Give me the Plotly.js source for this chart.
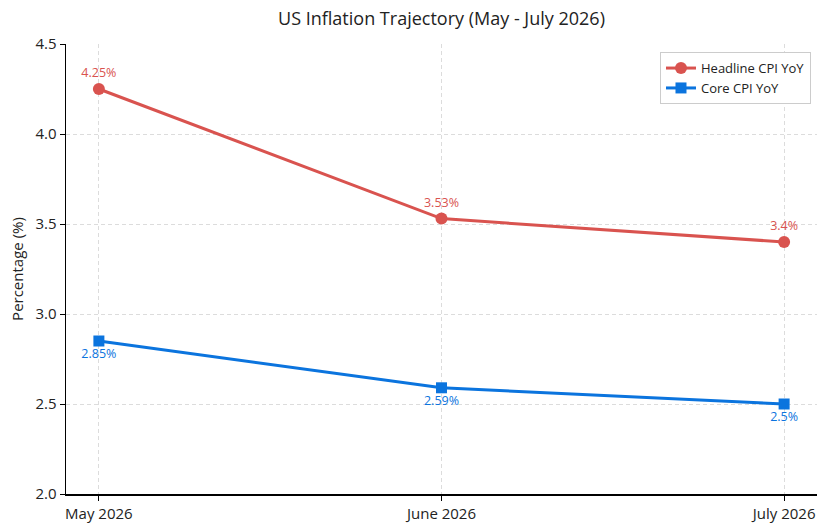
<!DOCTYPE html>
<html>
<head>
<meta charset="utf-8">
<script src="https://cdn.plot.ly/plotly-3.0.1.min.js"></script>
<style>html,body{margin:0;padding:0;background:#fff;}#chart{width:829px;height:529px;}</style>
</head>
<body>
<div id="chart"></div>
<script>
const months = ["May 2026", "June 2026", "July 2026"];
const headlineCPI = [4.25, 3.53, 3.4];
const coreCPI = [2.85, 2.59, 2.5];
const headlineLabels = ["4.25%", "3.53%", "3.4%"];
const coreLabels = ["2.85%", "2.59%", "2.5%"];
const yTicks = [2.0, 2.5, 3.0, 3.5, 4.0, 4.5];

const red = "#D9534F";
const blue = "#0B74DE";
const fontFam = "'Open Sans', Roboto, sans-serif";

const traces = [
  {
    x: [0, 1, 2], y: headlineCPI, name: "Headline CPI YoY",
    mode: "lines+markers+text", text: headlineLabels, textposition: "top center",
    textfont: {color: red, size: 12.5, family: fontFam},
    line: {color: red, width: 3}, marker: {color: red, size: 12, symbol: "circle"},
    cliponaxis: false
  },
  {
    x: [0, 1, 2], y: coreCPI, name: "Core CPI YoY",
    mode: "lines+markers+text", text: coreLabels, textposition: "bottom center",
    textfont: {color: blue, size: 12.5, family: fontFam},
    line: {color: blue, width: 3}, marker: {color: blue, size: 11, symbol: "square"},
    cliponaxis: false
  }
];

const layout = {
  width: 829, height: 529,
  margin: {l: 66, r: 12, t: 44, b: 35},
  paper_bgcolor: "#fff", plot_bgcolor: "#fff",
  font: {family: fontFam, color: "#222", size: 15},
  title: {text: "US Inflation Trajectory (May - July 2026)", xref: "paper", x: 0.5, xanchor: "center", y: 0.965, yanchor: "middle", font: {size: 18, color: "#222", family: fontFam}},
  xaxis: {
    range: [-0.096, 2.096], tickvals: [0, 1, 2], ticktext: months,
    showline: true, linecolor: "#000", linewidth: 1.5, ticks: "outside", ticklen: 5, tickcolor: "#000",
    showgrid: true, gridcolor: "#dcdcdc", griddash: "4px,3px", gridwidth: 1, zeroline: false,
    tickfont: {size: 15}
  },
  yaxis: {
    range: [2.0, 4.5], tickvals: yTicks, tickformat: ".1f",
    showline: true, linecolor: "#000", linewidth: 1.5, ticks: "outside", ticklen: 5, tickcolor: "#000",
    showgrid: true, gridcolor: "#dcdcdc", griddash: "4px,3px", gridwidth: 1, zeroline: false,
    title: {text: "Percentage (%)", font: {size: 15}, standoff: 8},
    tickfont: {size: 15}
  },
  legend: {
    x: 0.992, xanchor: "right", y: 0.982, yanchor: "top",
    bgcolor: "#fff", bordercolor: "#cccccc", borderwidth: 1,
    font: {size: 13, family: fontFam}
  },
  showlegend: true
};

Plotly.newPlot("chart", traces, layout, {displayModeBar: false, staticPlot: true});
</script>
</body>
</html>
